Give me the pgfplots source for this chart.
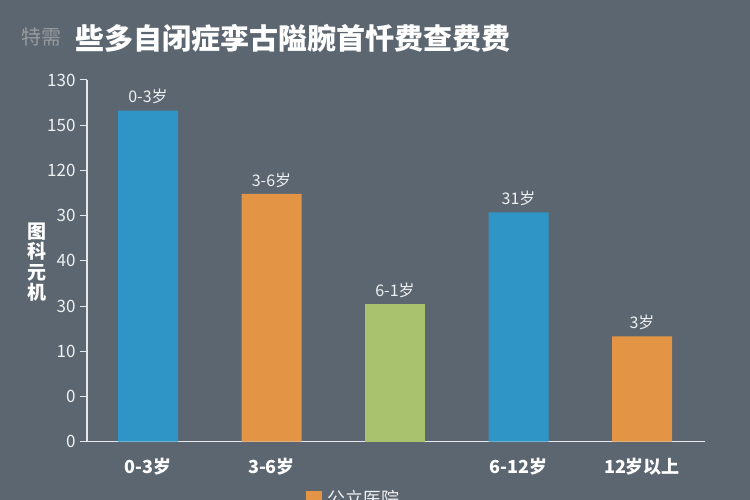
\documentclass[border=0pt]{standalone}
\usepackage{fontspec}
\setmainfont{Noto Sans CJK SC}
\usepackage{pgfplots}
\pgfplotsset{compat=1.18}
\definecolor{bgc}{HTML}{5C6670}
\definecolor{axc}{HTML}{E4E8EC}
\definecolor{txc}{HTML}{EEF0F2}
\definecolor{cblue}{HTML}{2E95C6}
\definecolor{corange}{HTML}{E39444}
\definecolor{cgreen}{HTML}{A9C26E}
\begin{document}
\begin{tikzpicture}
\fill[bgc] (0,0) rectangle (750pt,500pt);
\useasboundingbox (0,0) rectangle (750pt,500pt);
% title
\node[anchor=west, text=gray!60, font=\fontsize{20}{22}\selectfont, opacity=0.7] at (18pt,463pt) {特需};
\node[anchor=west, text=white, font=\bfseries\fontsize{29}{32}\selectfont] at (72pt,462pt) {些多自闭症孪古隘腕首忏费查费费};
\begin{axis}[
  at={(87pt,58.3pt)}, anchor=south west,
  scale only axis, width=618pt, height=361.7pt,
  xmin=-0.494, xmax=4.51, ymin=0, ymax=8,
  axis x line=bottom, axis y line=left,
  axis line style={-, draw=axc, line width=1.2pt},
  ytick={0,1,...,8},
  yticklabels={0,0,10,30,40,30,120,150,130},
  xtick={0,1,3,4},
  xticklabels={0-3岁,3-6岁,6-12岁,12岁以上},
  tick align=outside, major tick length=7pt,
  ytick style={draw=axc, line width=1pt},
  xtick style={draw=none},
  yticklabel style={text=txc, font=\fontsize{17}{19}\selectfont, xshift=-1pt},
  xticklabel style={text=white, font=\bfseries\fontsize{18}{20}\selectfont, yshift=-6pt},
  ylabel={图\\科\\元\\机},
  ylabel style={rotate=-90, align=center, text=white, font=\bfseries\fontsize{19}{20.5}\selectfont, at={(axis description cs:-0.081,0.497)}, anchor=center},
  nodes near coords,
  point meta=explicit symbolic,
  nodes near coords style={text=txc, font=\fontsize{16}{18}\selectfont, anchor=south, yshift=3pt},
  legend style={at={(axis description cs:0.354,-0.158)}, anchor=west, draw=none, fill=none, inner sep=0pt, text=txc, font=\fontsize{18}{20}\selectfont},
]
\addplot[ybar, bar width=60pt, bar shift=0pt, fill=cblue, draw=none, forget plot]
  coordinates {(0,7.32)[0-3岁] (3,5.07)[31岁]};
\addplot[ybar, bar width=60pt, bar shift=0pt, fill=corange, draw=none,
  legend image code/.code={\fill[corange] (0pt,-8pt) rectangle (16pt,8pt); \path (20pt,0pt);}]
  coordinates {(1,5.48)[3-6岁] (4,2.33)[3岁]};
\addlegendentry{公立医院}
\addplot[ybar, bar width=60pt, bar shift=0pt, fill=cgreen, draw=none, forget plot]
  coordinates {(2,3.04)[6-1岁]};
\end{axis}
\end{tikzpicture}
\end{document}
